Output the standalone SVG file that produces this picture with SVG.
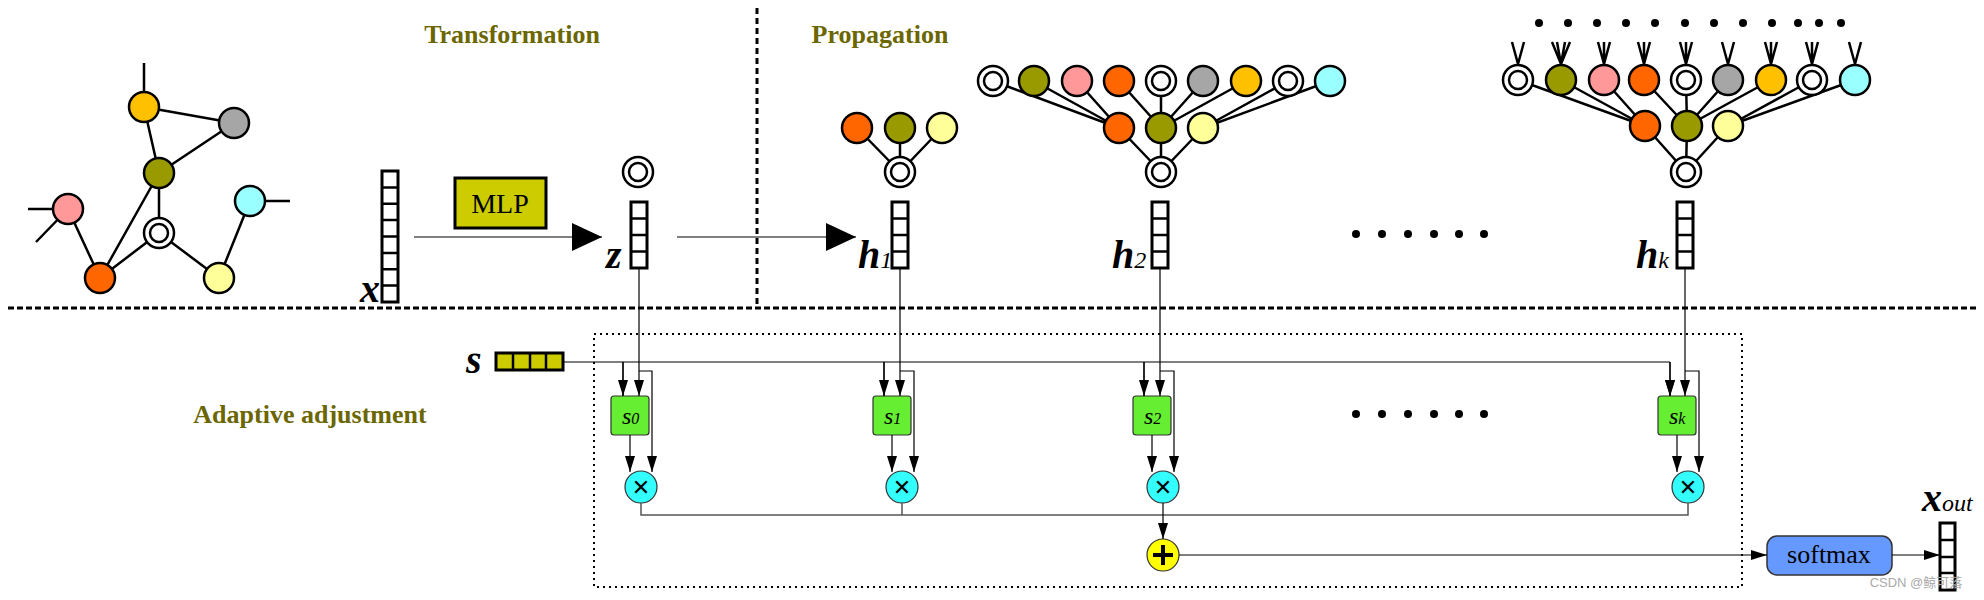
<svg xmlns="http://www.w3.org/2000/svg" width="1984" height="600" viewBox="0 0 1984 600">
<style>
.t{font-family:"Liberation Serif",serif;font-weight:bold;font-size:26px;fill:#6b6600}
.n{stroke:#000;stroke-width:2.5}
.e{stroke:#000;stroke-width:2.5;fill:none}
.v{fill:#fff;stroke:#000;stroke-width:3}
.c{stroke:#555;stroke-width:1.5;fill:none}
.k{stroke:#000;stroke-width:1.2;fill:none}
.lbl{font-family:"Liberation Serif",serif;font-style:italic;font-weight:bold;font-size:40px}
.sub{font-weight:normal;font-size:24px}
.sb{fill:#66ee33;stroke:#333;stroke-width:1.2}
.sl{font-family:"Liberation Serif",serif;font-style:italic;font-size:24px}
</style>
<defs>
<marker id="a" markerUnits="userSpaceOnUse" markerWidth="18" markerHeight="12" refX="16" refY="5" orient="auto"><path d="M0,0L16,5L0,10z" fill="#000"/></marker>
<marker id="b" markerUnits="userSpaceOnUse" markerWidth="32" markerHeight="32" refX="30" refY="14" orient="auto"><path d="M0,0L30,14L0,28z" fill="#000"/></marker>
<g id="d"><circle r="15" fill="#fff" stroke="#000" stroke-width="2.5"/><circle r="9" fill="#fff" stroke="#000" stroke-width="2.5"/></g>
</defs>

<text class="t" x="512" y="43" text-anchor="middle">Transformation</text>
<text class="t" x="880" y="43" text-anchor="middle">Propagation</text>
<text class="t" x="310" y="423" text-anchor="middle">Adaptive adjustment</text>

<line x1="757" y1="8" x2="757" y2="307" stroke="#000" stroke-width="3" stroke-dasharray="6,4"/>
<line x1="8" y1="308" x2="1976" y2="308" stroke="#000" stroke-width="3" stroke-dasharray="6,3"/>
<rect x="594" y="334" width="1148" height="253" fill="none" stroke="#000" stroke-width="2" stroke-dasharray="2,4"/>

<g id="graph">
<path class="e" d="M144,107L144,63M144,107L234,123M144,107L159,173M234,123L159,173M159,173L100,278M159,173L159,233M159,233L100,278M159,233L219,278M68,209L100,278M68,209L28,209M68,209L36,242M250,201L219,278M250,201L290,201"/>
<circle class="n" cx="144" cy="107" r="15" fill="#ffc000"/>
<circle class="n" cx="234" cy="123" r="15" fill="#a6a6a6"/>
<circle class="n" cx="159" cy="173" r="15" fill="#999900"/>
<circle class="n" cx="68" cy="209" r="15" fill="#ff9999"/>
<circle class="n" cx="250" cy="201" r="15" fill="#99ffff"/>
<use href="#d" x="159" y="233"/>
<circle class="n" cx="100" cy="278" r="15" fill="#ff6600"/>
<circle class="n" cx="219" cy="278" r="15" fill="#ffff99"/>
</g>

<g id="xvec">
<rect class="v" x="382" y="171" width="16" height="131"/>
<path class="e" d="M382,187.4H398M382,203.8H398M382,220.1H398M382,236.5H398M382,252.9H398M382,269.3H398M382,285.6H398"/>
<text class="lbl" x="360" y="302">x</text>
</g>

<g id="mlp">
<rect x="455" y="178" width="91" height="50" fill="#cccc00" stroke="#000" stroke-width="3"/>
<text x="500" y="213" text-anchor="middle" font-family="Liberation Serif,serif" font-size="28">MLP</text>
</g>

<g id="zvec">
<use href="#d" x="638" y="172"/>
<rect class="v" x="631" y="202" width="16" height="66"/>
<path class="e" d="M631,218.5H647M631,235H647M631,251.5H647"/>
<text class="lbl" x="606" y="268">z</text>
</g>

<g id="h1">
<path class="e" d="M857,128L900,172M900,128L900,172M942,128L900,172"/>
<circle class="n" cx="857" cy="128" r="15" fill="#ff6600"/>
<circle class="n" cx="900" cy="128" r="15" fill="#999900"/>
<circle class="n" cx="942" cy="128" r="15" fill="#ffff99"/>
<use href="#d" x="900" y="172"/>
<rect class="v" x="892" y="202" width="16" height="66"/>
<path class="e" d="M892,218.5H908M892,235H908M892,251.5H908"/>
<text class="lbl" x="858" y="268">h<tspan class="sub">1</tspan></text>
</g>

<g id="h2">
<path class="e" d="M993,81L1119,128M1034,81L1119,128M1077,81L1119,128M1119,81L1161,128M1161,81L1161,128M1203,81L1161,128M1246,81L1161,128M1288,81L1203,128M1330,81L1203,128M1119,128L1161,172M1161,128L1161,172M1203,128L1161,172"/>
<use href="#d" x="993" y="81"/>
<circle class="n" cx="1034" cy="81" r="15" fill="#999900"/>
<circle class="n" cx="1077" cy="81" r="15" fill="#ff9999"/>
<circle class="n" cx="1119" cy="81" r="15" fill="#ff6600"/>
<use href="#d" x="1161" y="81"/>
<circle class="n" cx="1203" cy="81" r="15" fill="#a6a6a6"/>
<circle class="n" cx="1246" cy="81" r="15" fill="#ffc000"/>
<use href="#d" x="1288" y="81"/>
<circle class="n" cx="1330" cy="81" r="15" fill="#99ffff"/>
<circle class="n" cx="1119" cy="128" r="15" fill="#ff6600"/>
<circle class="n" cx="1161" cy="128" r="15" fill="#999900"/>
<circle class="n" cx="1203" cy="128" r="15" fill="#ffff99"/>
<use href="#d" x="1161" y="172"/>
<rect class="v" x="1152" y="202" width="16" height="66"/>
<path class="e" d="M1152,218.5H1168M1152,235H1168M1152,251.5H1168"/>
<text class="lbl" x="1112" y="268">h<tspan class="sub">2</tspan></text>
</g>

<g id="hk">
<g fill="#000">
<circle cx="1539" cy="23" r="4"/><circle cx="1568" cy="23" r="4"/><circle cx="1597" cy="23" r="4"/><circle cx="1626" cy="23" r="4"/><circle cx="1655" cy="23" r="4"/><circle cx="1685" cy="23" r="4"/><circle cx="1714" cy="23" r="4"/><circle cx="1743" cy="23" r="4"/><circle cx="1772" cy="23" r="4"/><circle cx="1798" cy="23" r="4"/><circle cx="1819" cy="23" r="4"/><circle cx="1841" cy="23" r="4"/>
</g>
<path class="e" stroke-width="2" d="M1512,42L1518,64M1524,42L1518,64
M1552,42L1561,64M1557,42L1561,64M1565,42L1561,64M1570,42L1561,64
M1598,42L1604,64M1604,42L1604,64M1610,42L1604,64
M1638,42L1644,64M1644,42L1644,64M1650,42L1644,64
M1680,42L1686,64M1686,42L1686,64M1692,42L1686,64
M1722,42L1728,64M1734,42L1728,64
M1765,42L1771,64M1771,42L1771,64M1777,42L1771,64
M1806,42L1812,64M1812,42L1812,64M1818,42L1812,64
M1849,42L1855,64M1861,42L1855,64"/>
<path class="e" d="M1518,80L1645,126M1561,80L1645,126M1604,80L1645,126M1644,80L1687,126M1686,80L1687,126M1728,80L1687,126M1771,80L1687,126M1812,80L1728,126M1855,80L1728,126M1645,126L1686,172M1687,126L1686,172M1728,126L1686,172"/>
<use href="#d" x="1518" y="80"/>
<circle class="n" cx="1561" cy="80" r="15" fill="#999900"/>
<circle class="n" cx="1604" cy="80" r="15" fill="#ff9999"/>
<circle class="n" cx="1644" cy="80" r="15" fill="#ff6600"/>
<use href="#d" x="1686" y="80"/>
<circle class="n" cx="1728" cy="80" r="15" fill="#a6a6a6"/>
<circle class="n" cx="1771" cy="80" r="15" fill="#ffc000"/>
<use href="#d" x="1812" y="80"/>
<circle class="n" cx="1855" cy="80" r="15" fill="#99ffff"/>
<circle class="n" cx="1645" cy="126" r="15" fill="#ff6600"/>
<circle class="n" cx="1687" cy="126" r="15" fill="#999900"/>
<circle class="n" cx="1728" cy="126" r="15" fill="#ffff99"/>
<use href="#d" x="1686" y="172"/>
<rect class="v" x="1677" y="202" width="16" height="66"/>
<path class="e" d="M1677,218.5H1693M1677,235H1693M1677,251.5H1693"/>
<text class="lbl" x="1636" y="268">h<tspan class="sub">k</tspan></text>
</g>

<g id="dots" fill="#000">
<circle cx="1356" cy="234" r="4"/><circle cx="1382" cy="234" r="4"/><circle cx="1408" cy="234" r="4"/><circle cx="1434" cy="234" r="4"/><circle cx="1459" cy="234" r="4"/><circle cx="1484" cy="234" r="4"/>
<circle cx="1356" cy="414" r="4"/><circle cx="1382" cy="414" r="4"/><circle cx="1408" cy="414" r="4"/><circle cx="1434" cy="414" r="4"/><circle cx="1459" cy="414" r="4"/><circle cx="1484" cy="414" r="4"/>
</g>

<g id="svec">
<text class="lbl" x="466" y="373">s</text>
<rect x="496" y="353" width="67" height="17" fill="#cccc00" stroke="#000" stroke-width="3"/>
<path class="e" stroke-width="3" d="M513,353V370M530,353V370M546,353V370"/>
</g>

<g id="s0"><rect class="sb" x="611" y="396" width="38" height="39" rx="3"/><text class="sl" x="622" y="424">s<tspan font-size="16">0</tspan></text></g>
<g id="s1"><rect class="sb" x="873" y="396" width="38" height="39" rx="3"/><text class="sl" x="884" y="424">s<tspan font-size="16">1</tspan></text></g>
<g id="s2"><rect class="sb" x="1133" y="396" width="38" height="39" rx="3"/><text class="sl" x="1144" y="424">s<tspan font-size="16">2</tspan></text></g>
<g id="sk"><rect class="sb" x="1658" y="396" width="38" height="39" rx="3"/><text class="sl" x="1669" y="424">s<tspan font-size="16">k</tspan></text></g>

<g id="mults" font-family="DejaVu Sans,sans-serif" font-weight="bold" font-size="22" text-anchor="middle">
<circle cx="641" cy="487" r="16" fill="#33ffff" stroke="#333" stroke-width="1.2"/><text x="641" y="495">✕</text>
<circle cx="902" cy="487" r="16" fill="#33ffff" stroke="#333" stroke-width="1.2"/><text x="902" y="495">✕</text>
<circle cx="1163" cy="487" r="16" fill="#33ffff" stroke="#333" stroke-width="1.2"/><text x="1163" y="495">✕</text>
<circle cx="1688" cy="487" r="16" fill="#33ffff" stroke="#333" stroke-width="1.2"/><text x="1688" y="495">✕</text>
</g>
<g id="plus">
<circle cx="1163" cy="555" r="16" fill="#ffff00" stroke="#333" stroke-width="1.2"/>
<path d="M1163,545V565M1153,555H1173" stroke="#000" stroke-width="4"/>
</g>

<g id="softmax">
<rect x="1767" y="536" width="125" height="39" rx="10" fill="#6699ff" stroke="#333" stroke-width="1.5"/>
<text x="1829" y="563" text-anchor="middle" font-family="Liberation Serif,serif" font-size="26">softmax</text>
</g>
<g id="xout">
<rect class="v" x="1940" y="523" width="15" height="67"/>
<path class="e" d="M1940,540H1955M1940,557H1955M1940,573H1955"/>
<text class="lbl" x="1922" y="511">x<tspan class="sub">out</tspan></text>
</g>

<g id="connectors">
<line class="c" x1="414" y1="237" x2="602" y2="237" marker-end="url(#b)"/>
<line class="c" x1="677" y1="237" x2="856" y2="237" marker-end="url(#b)"/>
<path class="k" d="M563,362H1670"/>
<path class="k" d="M623,362V396M884,362V396M1144,362V396M1670,362V396" marker-end="url(#a)"/>
<path class="k" d="M623,362V396" marker-end="url(#a)"/>
<path class="k" d="M884,362V396" marker-end="url(#a)"/>
<path class="k" d="M1144,362V396" marker-end="url(#a)"/>
<path class="k" d="M1670,362V396" marker-end="url(#a)"/>
<path class="k" d="M639,268V396" marker-end="url(#a)"/>
<path class="k" d="M900,268V396" marker-end="url(#a)"/>
<path class="k" d="M1160,268V396" marker-end="url(#a)"/>
<path class="k" d="M1685,268V396" marker-end="url(#a)"/>
<path class="k" d="M639,371H652V472" marker-end="url(#a)"/>
<path class="k" d="M900,371H914V472" marker-end="url(#a)"/>
<path class="k" d="M1160,371H1174V472" marker-end="url(#a)"/>
<path class="k" d="M1685,371H1699V472" marker-end="url(#a)"/>
<path class="k" d="M630,435V472" marker-end="url(#a)"/>
<path class="k" d="M892,435V472" marker-end="url(#a)"/>
<path class="k" d="M1152,435V472" marker-end="url(#a)"/>
<path class="k" d="M1677,435V472" marker-end="url(#a)"/>
<path class="c" d="M641,503V515H1688V503M902,503V515"/>
<path class="k" d="M1163,503V539" marker-end="url(#a)"/>
<path class="k" d="M1179,555H1767" marker-end="url(#a)"/>
<path class="k" d="M1892,555H1940" marker-end="url(#a)"/>
</g>
<text x="1916" y="587" text-anchor="middle" font-family="Liberation Sans,Noto Sans CJK SC,sans-serif" font-size="13" fill="#aaa">CSDN @鲸可落</text>
</svg>
